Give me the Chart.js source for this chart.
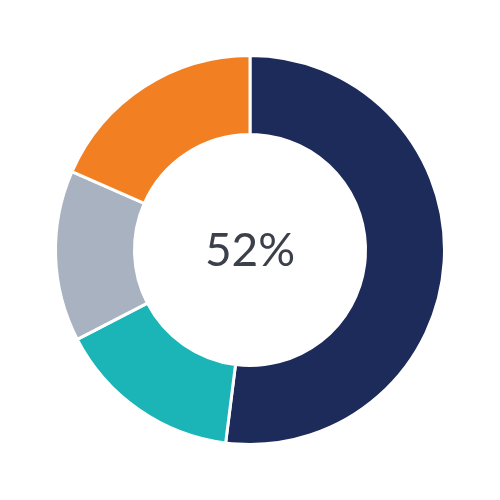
<!DOCTYPE html>
<html>
<head>
<meta charset="utf-8">
<script src="https://cdn.jsdelivr.net/npm/chart.js@4/dist/chart.umd.min.js"></script>
<style>
html,body{margin:0;padding:0;background:#fff;}
#wrap{width:500px;height:500px;position:relative;}
</style>
</head>
<body>
<div id="wrap"><canvas id="c" width="500" height="500"></canvas></div>
<script>
const categories = ["Segment A", "Segment B", "Segment C", "Segment D"];
const values = [52, 15.4, 14.2, 18.4];
const colors = ["#1d2b5a", "#1bb5b7", "#a8b2c1", "#f27f22"];
const centerLabel = "52%";

const centerText = {
  id: 'centerText',
  afterDraw(chart) {
    const {ctx} = chart;
    const arc = chart.getDatasetMeta(0).data[0];
    ctx.save();
    ctx.font = '400 46px Lato';
    ctx.fillStyle = '#3b404b';
    ctx.textAlign = 'center';
    ctx.textBaseline = 'middle';
    ctx.fillText(centerLabel, arc.x, arc.y + 1);
    ctx.restore();
  }
};

new Chart(document.getElementById('c'), {
  type: 'doughnut',
  data: {
    labels: categories,
    datasets: [{
      data: values,
      backgroundColor: colors,
      borderColor: '#ffffff',
      borderWidth: 3,
      hoverOffset: 0
    }]
  },
  options: {
    responsive: false,
    animation: false,
    cutout: '59.4%',
    layout: {padding: 54},
    plugins: {legend: {display: false}, tooltip: {enabled: false}}
  },
  plugins: [centerText]
});
</script>
</body>
</html>
